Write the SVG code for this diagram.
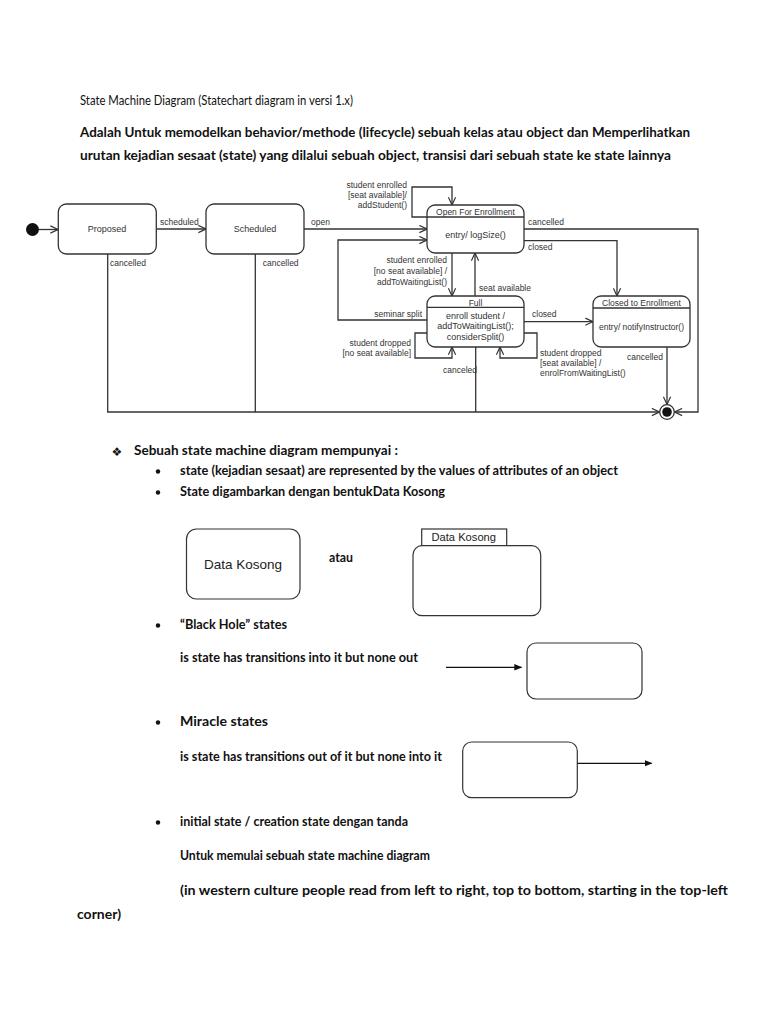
<svg xmlns="http://www.w3.org/2000/svg" width="768" height="1024" viewBox="0 0 768 1024">
<defs>
<marker id="openArrow" viewBox="0 0 10 10" refX="9.5" refY="5" markerWidth="9" markerHeight="9" orient="auto" markerUnits="userSpaceOnUse">
<path d="M1,1 L9.5,5 L1,9" fill="none" stroke="#333" stroke-width="1.3"/>
</marker>
<marker id="solidArrow" viewBox="0 0 10 10" refX="9" refY="5" markerWidth="8" markerHeight="8" orient="auto" markerUnits="userSpaceOnUse">
<path d="M0,1 L10,5 L0,9 Z" fill="#111"/>
</marker>
</defs>
<style>
.bg{fill:#fff}
.st{fill:#fff;stroke:#333;stroke-width:1.3}
.ln{fill:none;stroke:#333;stroke-width:1.3}
.ar{fill:none;stroke:#333;stroke-width:1.3;marker-end:url(#openArrow)}
.lb{font-family:"Liberation Sans",Arial,sans-serif;font-size:8.5px;fill:#333}
.nm{font-family:"Liberation Sans",Arial,sans-serif;font-size:9px;fill:#333}
.doc{font-family:Lato,"Open Sans",sans-serif;font-size:12.5px;fill:#111;font-weight:bold}
.docr{font-family:Lato,"Open Sans",sans-serif;font-size:12.5px;fill:#111}
.ex{fill:#fff;stroke:#333;stroke-width:1.2}
.exl{fill:none;stroke:#111;stroke-width:1.2;marker-end:url(#solidArrow)}
.arial{font-family:"Liberation Sans",Arial,sans-serif;fill:#222}
</style>
<rect class="bg" x="0" y="0" width="768" height="1024"/>

<!-- document text -->
<g id="heading">
<text class="docr" x="80" y="105" textLength="273" lengthAdjust="spacingAndGlyphs">State Machine Diagram (Statechart diagram in versi 1.x)</text>
<text class="doc" x="80" y="137" textLength="610" lengthAdjust="spacingAndGlyphs">Adalah Untuk memodelkan behavior/methode (lifecycle) sebuah kelas atau object  dan Memperlihatkan</text>
<text class="doc" x="80" y="160" textLength="591" lengthAdjust="spacingAndGlyphs">urutan kejadian sesaat (state) yang dilalui sebuah object, transisi dari sebuah state ke state lainnya</text>
</g>

<!-- state machine diagram -->
<g id="connectors">
<path class="ar" d="M39,229.5 L58,229.5"/>
<path class="ar" d="M156.5,229 L206,229"/>
<path class="ar" d="M304,229 L427,229"/>
<path class="ar" d="M427,217 L412,217 L412,187 L452,187 L452,205"/>
<path class="ar" d="M524,229 L698,229 L698,412 L674.5,412"/>
<path class="ar" d="M524,240.7 L617,240.7 L617,296"/>
<path class="ar" d="M452,253 L452,296"/>
<path class="ar" d="M475,296 L475,253"/>
<path class="ar" d="M427,320 L338,320 L338,240 L427,240"/>
<path class="ar" d="M524,321.7 L593,321.7"/>
<path class="ar" d="M427,333 L415,333 L415,358 L452,358 L452,347"/>
<path class="ar" d="M524,333 L537,333 L537,358 L500,358 L500,347"/>
<path class="ln" d="M475.7,347 L475.7,412"/>
<path class="ar" d="M667,347 L667,404.5"/>
<path class="ar" d="M107.7,254 L107.7,412 L659.5,412"/>
<path class="ln" d="M255.3,254 L255.3,412"/>
<text class="lb" x="160" y="224.5">scheduled</text>
<text class="lb" x="311" y="224.5">open</text>
<text class="lb" x="407" y="188" text-anchor="end">student enrolled</text>
<text class="lb" x="407" y="198" text-anchor="end">[seat available]/</text>
<text class="lb" x="407" y="208" text-anchor="end">addStudent()</text>
<text class="lb" x="528" y="224.5">cancelled</text>
<text class="lb" x="528" y="249.5">closed</text>
<text class="lb" x="447" y="263" text-anchor="end">student enrolled</text>
<text class="lb" x="447" y="273.5" text-anchor="end">[no seat available] /</text>
<text class="lb" x="447" y="284.5" text-anchor="end">addToWaitingList()</text>
<text class="lb" x="479" y="291">seat available</text>
<text class="lb" x="422" y="317" text-anchor="end">seminar split</text>
<text class="lb" x="532" y="317">closed</text>
<text class="lb" x="411" y="345.5" text-anchor="end">student dropped</text>
<text class="lb" x="411" y="355.5" text-anchor="end">[no seat available]</text>
<text class="lb" x="540" y="356">student dropped</text>
<text class="lb" x="540" y="366">[seat available] /</text>
<text class="lb" x="540" y="376">enrolFromWaitingList()</text>
<text class="lb" x="443" y="373">canceled</text>
<text class="lb" x="627" y="360">cancelled</text>
<text class="lb" x="110" y="266">cancelled</text>
<text class="lb" x="262.7" y="266">cancelled</text>
</g>

<g id="initial">
<circle cx="32.5" cy="229.5" r="6.5" fill="#111"/>
</g>
<g id="proposed">
<rect class="st" x="58.3" y="204" width="98" height="50" rx="8"/>
<text class="nm" x="107" y="232" text-anchor="middle">Proposed</text>
</g>
<g id="scheduled">
<rect class="st" x="206" y="204" width="98" height="50" rx="8"/>
<text class="nm" x="255" y="232" text-anchor="middle">Scheduled</text>
</g>
<g id="open-for-enrollment">
<rect class="st" x="427" y="205" width="97" height="48" rx="8"/>
<line class="ln" x1="427" y1="217" x2="524" y2="217"/>
<text class="lb" x="475.5" y="214.5" text-anchor="middle">Open For Enrollment</text>
<text class="nm" x="475.5" y="238" text-anchor="middle">entry/ logSize()</text>
</g>
<g id="full">
<rect class="st" x="427" y="296" width="97" height="51" rx="8"/>
<line class="ln" x1="427" y1="307.3" x2="524" y2="307.3"/>
<text class="lb" x="475.5" y="305.5" text-anchor="middle">Full</text>
<text class="nm" x="475.5" y="318.5" text-anchor="middle">enroll student /</text>
<text class="nm" x="475.5" y="329" text-anchor="middle">addToWaitingList();</text>
<text class="nm" x="475.5" y="339.5" text-anchor="middle">considerSplit()</text>
</g>
<g id="closed-to-enrollment">
<rect class="st" x="593" y="296" width="97" height="51" rx="8"/>
<line class="ln" x1="593" y1="308" x2="690" y2="308"/>
<text class="lb" x="641.5" y="306" text-anchor="middle">Closed to Enrollment</text>
<text class="lb" x="641.5" y="330" text-anchor="middle">entry/ notifyInstructor()</text>
</g>
<g id="final">
<circle cx="667" cy="412" r="7.3" fill="#fff" stroke="#333" stroke-width="1.3"/>
<circle cx="667" cy="412" r="4.8" fill="#111"/>
</g>

<!-- bullet list -->
<g id="list">
<text x="111.5" y="455.5" font-family="DejaVu Sans,sans-serif" font-size="12" fill="#111">❖</text>
<text class="doc" x="134" y="455" textLength="264" lengthAdjust="spacingAndGlyphs">Sebuah state machine diagram mempunyai :</text>
<circle cx="158" cy="471.5" r="2.2" fill="#111"/>
<text class="doc" x="180" y="475" textLength="438" lengthAdjust="spacingAndGlyphs">state (kejadian sesaat) are represented by the values of attributes of an object</text>
<circle cx="158" cy="492.5" r="2.2" fill="#111"/>
<text class="doc" x="180" y="496" textLength="265" lengthAdjust="spacingAndGlyphs">State digambarkan dengan bentukData Kosong</text>
</g>

<g id="state-example-1">
<rect class="ex" x="186.5" y="529" width="113.5" height="70" rx="10"/>
<text class="arial" x="243" y="568.5" font-size="13.5" text-anchor="middle">Data Kosong</text>
</g>
<text class="doc" x="329" y="562" textLength="24" lengthAdjust="spacingAndGlyphs">atau</text>
<g id="state-example-2">
<rect class="ex" x="421.7" y="529" width="85" height="17"/>
<text class="arial" x="431.5" y="541" font-size="10.5" textLength="64.5" lengthAdjust="spacingAndGlyphs">Data Kosong</text>
<rect class="ex" x="413" y="545.7" width="127.7" height="70" rx="9"/>
</g>

<g id="black-hole">
<circle cx="158" cy="625.5" r="2.2" fill="#111"/>
<text class="doc" x="180" y="629" textLength="107" lengthAdjust="spacingAndGlyphs">“Black Hole” states</text>
<text class="doc" x="180" y="662" textLength="238" lengthAdjust="spacingAndGlyphs">is state has transitions into it but none out</text>
<path class="exl" d="M446,667.3 L521.5,667.3"/>
<rect class="ex" x="527" y="643" width="115" height="56" rx="9"/>
</g>

<g id="miracle">
<circle cx="158" cy="722.5" r="2.2" fill="#111"/>
<text class="doc" x="180" y="726" textLength="88" lengthAdjust="spacingAndGlyphs">Miracle states</text>
<text class="doc" x="180" y="761" textLength="262" lengthAdjust="spacingAndGlyphs">is state has transitions out of it but none into it</text>
<rect class="ex" x="462.7" y="742" width="114.6" height="55.7" rx="9"/>
<path class="exl" d="M577.3,763.3 L651.7,763.3"/>
</g>

<g id="initial-note">
<circle cx="158" cy="822.5" r="2.2" fill="#111"/>
<text class="doc" x="180" y="826" textLength="228" lengthAdjust="spacingAndGlyphs">initial state / creation state dengan tanda</text>
<text class="doc" x="180" y="860" textLength="250" lengthAdjust="spacingAndGlyphs">Untuk memulai sebuah state machine diagram</text>
<text class="doc" x="180" y="895" textLength="548" lengthAdjust="spacingAndGlyphs">(in western culture people read from left to right, top to bottom, starting in the top-left</text>
<text class="doc" x="77" y="919" textLength="44" lengthAdjust="spacingAndGlyphs">corner)</text>
</g>
</svg>
